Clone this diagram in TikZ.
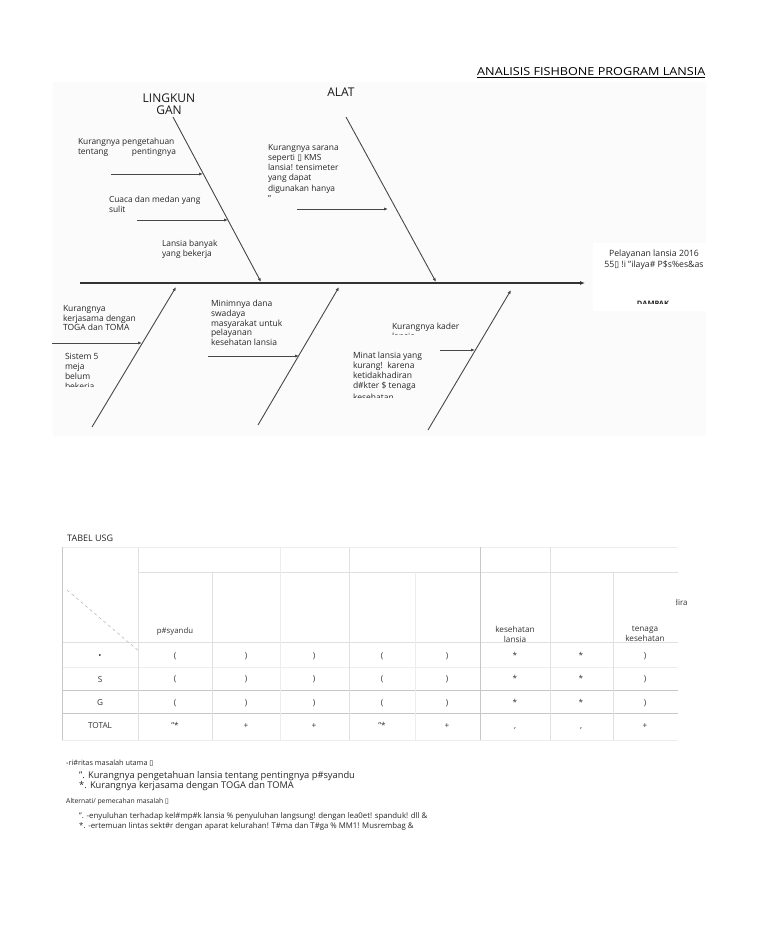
\documentclass[tikz,border=0pt]{standalone}
\usepackage{fontspec}
\setmainfont{Open Sans}
\newfontfamily\dejavufont{DejaVu Sans}
\newfontfamily\titlefont{Open Sans}[FakeStretch=1.15]
\usetikzlibrary{arrows.meta}
\newcommand{\rbox}{{\dejavufont\char"25AF}}
\begin{document}
\begin{tikzpicture}[x=1pt,y=-1pt,
  lbl/.style={anchor=north west,inner sep=0pt,outer sep=0pt,align=left,text=black!85,font=\fontsize{8.4}{10}\selectfont},
  one/.style={anchor=base west,inner sep=0pt,outer sep=0pt,text=black!85,font=\fontsize{8.4}{10}\selectfont},
  cat/.style={anchor=base,inner sep=0pt,align=center,text=black!90,font=\fontsize{12}{14}\selectfont},
  bone/.style={draw=black!72,line width=0.9pt},
  bonearrow/.style={bone,-{Latex[length=4pt,width=3.2pt]}},
  sub/.style={draw=black!72,line width=1pt,-{Latex[length=4pt,width=3.2pt]}},
  spine/.style={draw=black!80,line width=1.4pt,-{Latex[length=5pt,width=4pt]}},
  tl/.style={draw=black!12,line width=0.6pt},
  tf/.style={draw=black!7,line width=0.6pt},
  td/.style={draw=black!22,line width=0.6pt},
  cell/.style={anchor=base,inner sep=0pt,text=black!80,font=\fontsize{8.2}{9}\selectfont},
  hcell/.style={anchor=north,inner sep=0pt,align=center,text=black!80,font=\fontsize{8.2}{10}\selectfont},
  body/.style={anchor=base west,inner sep=0pt,text=black!85},
]
\useasboundingbox (0,0) rectangle (768,934);
\fill[white] (0,0) rectangle (768,934);
% fishbone picture background
\fill[black!1.5] (53,82) rectangle (706,436);
\fill[white] (593,243) rectangle (708,311);

% title
\node[anchor=base west,inner sep=0pt,font=\titlefont\fontsize{11}{13}\selectfont] (title) at (477,76) {\underline{ANALISIS FISHBONE PROGRAM LANSIA}};

% spine and effect
\coordinate (sp0) at (80,283);
\coordinate (sp1) at (585,283);
\draw[spine] (sp0) -- (sp1);
\node[anchor=north,inner sep=0pt,align=center,text=black!85,font=\fontsize{8.7}{11}\selectfont] (effect) at (654,249.4)
  {Pelayanan lansia 2016\\55\rbox{} !i "ilaya\# P\$s\%es\&as};
\begin{scope}
  \clip (620,298) rectangle (690,303.2);
  \node[anchor=base,inner sep=0pt,text=black!85,font=\bfseries\fontsize{7.5}{9}\selectfont] (dampak) at (653,306.3) {DAMPAK};
\end{scope}

% categories
\node[cat] (lingk) at (169,102) {LINGKUN};
\node[cat] (lingk2) at (169,114.5) {GAN};
\node[cat] (alat) at (341,96) {ALAT};

% upper bones
\coordinate (L1t) at (173,117);
\coordinate (L1b) at (261,282);
\coordinate (L2t) at (346,117);
\coordinate (L2b) at (436,282);
\draw[bonearrow] (L1t) -- (L1b);
\draw[bonearrow] (L2t) -- (L2b);

% lower bones
\coordinate (B1b) at (92,427);
\coordinate (B1t) at (176,287);
\coordinate (B2b) at (258,425);
\coordinate (B2t) at (339,287);
\coordinate (B3b) at (428,430);
\coordinate (B3t) at (511,290);
\draw[bonearrow] (B1b) -- (B1t);
\draw[bonearrow] (B2b) -- (B2t);
\draw[bonearrow] (B3b) -- (B3t);

% sub-cause arrows
\coordinate (a1s) at (111,174); \coordinate (a1e) at (203,174);
\coordinate (a2s) at (137,220); \coordinate (a2e) at (228,220);
\coordinate (a3s) at (297,209); \coordinate (a3e) at (388,209);
\coordinate (a4s) at (52,343);  \coordinate (a4e) at (142,343);
\coordinate (a5s) at (208,356); \coordinate (a5e) at (299,356);
\coordinate (a6s) at (440,350); \coordinate (a6e) at (475,350);
\draw[sub] (a1s) -- (a1e);
\draw[sub] (a2s) -- (a2e);
\draw[sub] (a3s) -- (a3e);
\draw[sub] (a4s) -- (a4e);
\draw[sub] (a5s) -- (a5e);
\draw[sub] (a6s) -- (a6e);

% upper labels
\node[lbl] (u1) at (78,137.7) {Kurangnya pengetahuan\\\makebox[54pt][l]{tentang}pentingnya};
\node[lbl] (u2) at (109,195.7) {Cuaca dan medan yang\\sulit};
\node[lbl] (u3) at (162,239.7) {Lansia banyak\\yang bekerja};
\node[lbl,font=\fontsize{8.4}{10.1}\selectfont] (u4) at (268,144.7) {Kurangnya sarana\\seperti \rbox{} KMS\\lansia! tensimeter\\yang dapat\\digunakan hanya};
\begin{scope}
  \clip (260,193) rectangle (300,198.5);
  \node[one] (u4x) at (268,201.5) {"};
\end{scope}

% lower labels
\node[lbl,font=\fontsize{8.5}{9.7}\selectfont] (d1) at (63,305.5) {Kurangnya\\kerjasama dengan\\TOGA dan TOMA};
\node[lbl,font=\fontsize{8.5}{9.7}\selectfont] (d2) at (65,353.7) {Sistem 5\\meja\\belum};
\begin{scope}
  \clip (55,380) rectangle (120,386.6);
  \node[one,font=\fontsize{8.5}{9.7}\selectfont] (d2x) at (65,389.8) {bekerja};
\end{scope}
\node[lbl,font=\fontsize{8.5}{9.6}\selectfont] (d3) at (211,300.5) {Minimnya dana\\swadaya\\masyarakat untuk\\pelayanan\\kesehatan lansia};
\node[one,font=\fontsize{8.5}{9.7}\selectfont] (d4) at (392,329) {Kurangnya kader};
\begin{scope}
  \clip (385,331.5) rectangle (440,334.3);
  \node[one,font=\fontsize{8.5}{9.7}\selectfont] (d4x) at (392,339) {lansia};
\end{scope}
\node[lbl,font=\fontsize{8.5}{9.8}\selectfont] (d5) at (353,352.5) {Minat lansia yang\\kurang!\ \ karena\\ketidakhadiran\\d\#kter \$ tenaga};
\begin{scope}
  \clip (345,392) rectangle (420,397.3);
  \node[one,font=\fontsize{8.5}{9.8}\selectfont] (d5x) at (353,400.5) {kesehatan};
\end{scope}

% ---------------- table ----------------
\node[anchor=base west,inner sep=0pt,text=black!85,font=\fontsize{9}{10}\selectfont] (tabel) at (67,541) {TABEL USG};

% horizontal lines
\draw[tf] (62,547) -- (678,547);
\draw[tl] (138,572) -- (678,572);
\draw[tl] (62,642) -- (678,642);
\draw[tf] (62,667) -- (678,667);
\draw[td] (62,690) -- (678,690);
\draw[td] (62,713) -- (678,713);
\draw[tf] (62,740) -- (678,740);
% vertical lines
\draw[td] (62,547) -- (62,740);
\draw[tl] (138,547) -- (138,740);
\draw[tl] (212,572) -- (212,740);
\draw[tf] (280,547) -- (280,740);
\draw[tl] (349,547) -- (349,740);
\draw[tf] (415,572) -- (415,740);
\draw[td] (480,547) -- (480,740);
\draw[tl] (550,547) -- (550,740);
\draw[tl] (613,572) -- (613,740);
% diagonal
\draw[draw=black!30,dashed,line width=0.5pt] (67,590) -- (140,652);

% header cells
\node[cell,font=\fontsize{7.8}{9}\selectfont] (hpos) at (175,633) {p\#syandu};
\node[hcell] (hkes) at (515,626) {kesehatan\\lansia};
\node[hcell] (hten) at (645,626) {tenaga\\kesehatan};
\begin{scope}
  \clip (676.5,595) rectangle (700,610);
  \node[anchor=base west,inner sep=0pt,text=black!80,font=\fontsize{8}{9}\selectfont] (hdira) at (673,605) {dira};
\end{scope}

% row labels
\node[cell] (r1) at (100,658) {\textbullet};
\node[cell] (r2) at (100,682) {S};
\node[cell] (r3) at (100,705.5) {G};
\node[cell] (r4) at (100,728.5) {TOTAL};

% values (rows 1-3)
\foreach \xx/\v [count=\c] in {175/{(},246/{)},314/{)},382/{(},447/{)},515/{*},581/{*},645/{)}} {
  \node[cell] (va\c) at (\xx,658) {\v};
  \node[cell] (vb\c) at (\xx,681.5) {\v};
  \node[cell] (vc\c) at (\xx,705) {\v};
}
% totals
\node[cell] (vd1) at (175,728) {"*};
\node[cell] (vd2) at (246,728) {+};
\node[cell] (vd3) at (314,728) {+};
\node[cell] (vd4) at (382,728) {"*};
\node[cell] (vd5) at (447,728) {+};
\node[cell] (vd6) at (515,728) {,};
\node[cell] (vd7) at (581,728) {,};
\node[cell] (vd8) at (645,728) {+};

% ---------------- bottom text ----------------
\node[body,font=\fontsize{7.3}{9}\selectfont] (p0) at (66,765) {-ri\#ritas masalah utama \rbox};
\node[body,font=\fontsize{9.3}{10}\selectfont] (p1) at (79,778) {". Kurangnya pengetahuan lansia tentang pentingnya p\#syandu};
\node[body,font=\fontsize{9.3}{10}\selectfont] (p2) at (79,788.5) {*. Kurangnya kerjasama dengan TOGA dan TOMA};
\node[body,font=\fontsize{6.8}{9}\selectfont] (q0) at (66,803.5) {Alternati/ pemecahan masalah \rbox};
\node[body,font=\fontsize{7.8}{9}\selectfont] (q1) at (79,818.5) {". -enyuluhan terhadap kel\#mp\#k lansia \% penyuluhan langsung! dengan lea0et! spanduk! dll \&};
\node[body,font=\fontsize{7.8}{9}\selectfont] (q2) at (79,828) {*. -ertemuan lintas sekt\#r dengan aparat kelurahan! T\#ma dan T\#ga \% MM1! Musrembag \&};
\end{tikzpicture}
\end{document}
